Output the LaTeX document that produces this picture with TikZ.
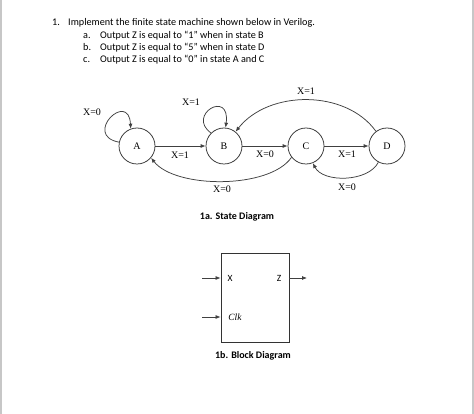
\documentclass[tikz,border=0pt]{standalone}
\usepackage{fontspec}
\setmainfont{Liberation Serif}
\newfontfamily\calib{Carlito}
\usetikzlibrary{arrows.meta}
\begin{document}
\begin{tikzpicture}[x=1pt,y=-1pt,
  state/.style={circle,draw=black!80,line width=0.75pt,minimum size=36pt,inner sep=0pt,font=\fontsize{10}{11}\selectfont},
  edge/.style={draw=black!75,line width=0.75pt,-{Latex[length=5pt,width=4pt]}},
  lbl/.style={font=\fontsize{10}{11}\selectfont,inner sep=0pt},
  txt/.style={font=\calib\fontsize{10.2}{12}\selectfont,anchor=base west,inner sep=0pt},
  captext/.style={font=\calib\bfseries\fontsize{10}{12}\selectfont,inner sep=0pt},
  blk/.style={font=\calib\fontsize{9.5}{10}\selectfont,inner sep=0pt}]
\useasboundingbox (0,0) rectangle (474,414);
\fill[white] (0,0) rectangle (474,414);
\fill[black!22] (0,0) rectangle (2.3,414);
\fill[black!22] (471.7,0) rectangle (474,414);
% text
\node[txt] (n1) at (52,26) {1.};
\node[txt] (t1) at (68,26) {Implement the finite state machine shown below in Verilog.};
\node[txt] (na) at (83,38.2) {a.};
\node[txt] (ta) at (100,38.2) {Output Z is equal to “1” when in state B};
\node[txt] (nb) at (83,50.4) {b.};
\node[txt] (tb) at (100,50.4) {Output Z is equal to “5” when in state D};
\node[txt] (nc) at (83,62.6) {c.};
\node[txt] (tc) at (100,62.6) {Output Z is equal to “0” in state A and C};
% states
\node[state] (A) at (137,146) {A};
\node[state] (B) at (224,146) {B};
\node[state] (C) at (306,146) {C};
\node[state] (D) at (387,146) {D};
\draw[edge] (A.168) .. controls +(-37,-7) and +(-2,-39) .. (A.110);
\draw[edge] (B.135) .. controls +(-25,-18) and +(5,-39) .. (B.85);
\draw[edge] (A) -- (B);
\draw[edge] (B) -- (C);
\draw[edge] (C) -- (D);
\draw[edge] (D.127) .. controls +(-30,-42) and +(33,-42) .. (B.51);
\draw[edge] (C.218) .. controls +(-22,32) and +(24,31) .. (A.320);
\draw[edge] (D.242) .. controls +(-10,20) and +(10,20) .. (C.292);
\node[lbl] (l1) at (92,112) {X=0};
\node[lbl] (l2) at (191,102) {X=1};
\node[lbl] (l3) at (180,155) {X=1};
\node[lbl] (l4) at (265,154) {X=0};
\node[lbl] (l5) at (347,154) {X=1};
\node[lbl] (l6) at (306,91) {X=1};
\node[lbl] (l7) at (222,189) {X=0};
\node[lbl] (l8) at (347,187) {X=0};
\node[captext] (c1) at (237,217) {1a. State Diagram};
% block diagram
\node[draw=black!80,line width=0.8pt,minimum width=68pt,minimum height=89pt,inner sep=0pt] (blk) at (255,297.5) {};
\coordinate (xin) at (202,278);
\coordinate (ckin) at (202,317);
\coordinate (zout) at (307,278);
\draw[edge] (xin) -- (xin -| blk.west);
\draw[edge] (ckin) -- (ckin -| blk.west);
\draw[edge] (zout -| blk.east) -- (zout);
\node[blk] (bx) at (230,278) {X};
\node[blk] (bz) at (279,278) {Z};
\node[inner sep=0pt,font=\itshape\fontsize{9.5}{10}\selectfont] (bc) at (235,317) {Clk};
\node[captext] (c2) at (253,356) {1b. Block Diagram};
\end{tikzpicture}
\end{document}
